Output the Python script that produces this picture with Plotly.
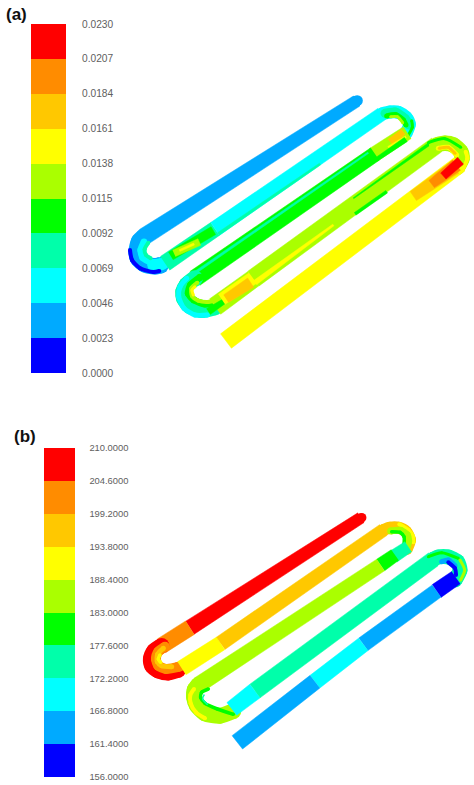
import math
import plotly.graph_objects as go

W, H = 474, 785

band_colors = ["#0000ff", "#00aaff", "#00ffff", "#00ffaa", "#00ff00",
               "#aaff00", "#ffff00", "#ffc800", "#ff8c00", "#ff0000"]

a_ticks = [0.0, 0.0023, 0.0046, 0.0069, 0.0092, 0.0115, 0.0138, 0.0161, 0.0184, 0.0207, 0.0230]
b_ticks = [156.0, 161.4, 166.8, 172.2, 177.6, 183.0, 188.4, 193.8, 199.2, 204.6, 210.0]

# pipe pieces: field value, width in px (or start/end width), centreline x, centreline y
# x/y, in crop units (3 per image pixel)
# two points = straight tapered patch, more = curved stripe with round joints
a_pieces = [
    # first leg and bend
    (0.0035, 11, [703, 708, 712], [37, 34, 32]),
    (0.0035, (12, 17), [710, 72], [33, 440]),
    (0.0035, 16.5, [72, 57, 50, 54, 75, 105, 122], [440, 455, 485, 505, 523, 529, 526]),
    (0.0057, 12, [100, 125, 148], [526, 522, 508]),
    (0.0010, 4, [30, 36, 60, 100, 118], [480, 510, 535, 546, 543]),
    (0.0057, 6.5, [72, 62, 68, 90, 120], [455, 480, 503, 516, 516]),
    (0.0080, 4, [85, 74, 78, 92], [458, 478, 495, 505]),
    # second leg
    (0.0080, (16.5, 15.5), [135, 285], [520, 417]),
    (0.0104, 9, [152, 280], [498, 422]),
    (0.0127, 7, [162, 238], [490, 456]),
    (0.0150, 2, [178, 222], [482, 462]),
    (0.0057, (15.5, 13.5), [285, 785], [417, 72]),
    (0.0080, (3, 2), [295, 600], [432, 222]),
    # upper right bend
    (0.0057, 13, [785, 810, 835, 858, 868, 858], [72, 66, 67, 82, 103, 130]),
    (0.0080, 9, [795, 825, 855, 868], [70, 66, 85, 105]),
    (0.0104, 5, [800, 828, 850, 858], [78, 74, 90, 105]),
    (0.0127, 3, [812, 832, 848], [80, 80, 98]),
    (0.0104, 3, [875, 877, 865], [92, 112, 135]),
    # third leg
    (0.0127, (14, 15), [862, 760], [128, 195]),
    (0.0172, (6, 8), [850, 812], [125, 157]),
    (0.0150, 2, [858, 805], [140, 172]),
    (0.0104, (5, 4), [858, 770], [148, 208]),
    (0.0104, (15, 17), [765, 225], [192, 565]),
    (0.0080, (1.5, 2.5), [745, 225], [188, 548]),
    # lower left bend
    (0.0080, 16, [225, 200, 190, 192, 210, 245, 285], [565, 585, 605, 625, 648, 660, 652]),
    (0.0057, 5, [200, 180, 176, 192, 225, 262], [565, 590, 620, 655, 675, 675]),
    (0.0104, 7, [240, 212, 205, 222, 255, 290], [562, 585, 610, 630, 642, 640]),
    (0.0127, 4, [232, 214, 216, 235, 262, 292], [578, 595, 618, 632, 636, 630]),
    (0.0150, 3, [225, 216, 220], [590, 600, 615]),
    # fourth leg
    (0.0127, (19, 18), [285, 400], [650, 566]),
    (0.0104, (7, 5), [265, 315], [665, 632]),
    (0.0150, (12, 13), [305, 405], [628, 560]),
    (0.0172, (9, 11), [318, 392], [626, 578]),
    (0.0127, (18.5, 17), [400, 950], [566, 165]),
    (0.0150, (5, 2), [405, 640], [578, 405]),
    (0.0104, 3, [705, 800], [372, 305]),
    (0.0104, (1, 3), [700, 940], [325, 153]),
    # far right bend
    (0.0127, 15.5, [950, 975, 1000, 1022, 1026, 1012], [165, 160, 165, 185, 205, 232]),
    (0.0104, 3, [925, 975, 1022], [158, 146, 172]),
    (0.0150, 5, [955, 985, 1010], [175, 172, 195]),
    (0.0172, 3, [958, 985, 1005], [175, 172, 190]),
    (0.0150, 4, [1037, 1042, 1030], [185, 205, 235]),
    # fifth leg
    (0.0150, (17, 18), [1020, 318], [222, 753]),
    (0.0172, (14, 11), [1005, 880], [232, 318]),
    (0.0195, (13, 9), [1010, 935], [225, 282]),
    (0.0220, (9, 8), [1022, 970], [212, 258]),
]

b_pieces = [
    # first leg and bend
    (208.0, 9.5, [688, 692, 695], [42, 40, 38]),
    (208.0, (11.5, 15.5), [693, 180], [38, 368]),
    (202.0, 16, [180, 95], [368, 422]),
    (208.0, 15.5, [95, 72, 62, 66, 85, 115, 145], [422, 438, 462, 482, 497, 503, 495]),
    (202.0, 10, [105, 85, 78, 85, 108, 148], [425, 440, 462, 482, 492, 485]),
    (196.0, 5, [100, 83, 82, 95, 125], [430, 448, 470, 482, 485]),
    (191.0, 3.5, [90, 85, 92], [450, 462, 472]),
    # second leg
    (191.0, (15.5, 15), [155, 272], [490, 415]),
    (196.0, (15, 13), [272, 760], [415, 75]),
    # upper right bend
    (196.0, 12, [760, 780, 805, 828, 840, 830], [75, 68, 68, 80, 105, 132]),
    (191.0, 4, [808, 835, 848, 850], [58, 75, 92, 112]),
    (186.0, 7, [782, 812, 832, 836, 832], [78, 76, 90, 108, 125]),
    (180.0, 3.5, [785, 810, 822, 822], [80, 82, 95, 118]),
    # third leg
    (174.0, (12, 13), [835, 790], [125, 155]),
    (180.0, (13, 14), [795, 752], [150, 180]),
    (186.0, (14, 16), [752, 205], [180, 540]),
    # lower left bend
    (186.0, 16, [205, 194, 192, 200, 225, 270, 310], [540, 555, 575, 600, 625, 632, 618]),
    (191.0, 4, [192, 181, 182, 198, 225], [552, 570, 595, 622, 640]),
    (180.0, 3.5, [235, 215, 212, 225, 262, 310], [552, 562, 578, 595, 612, 628]),
    (174.0, 1.5, [222, 218, 232], [570, 582, 598]),
    # fourth leg
    (169.0, (16, 17), [305, 375], [612, 558]),
    (174.0, (17, 16), [375, 910], [558, 163]),
    # far right bend
    (174.0, 15, [910, 925, 955, 982, 990, 975], [163, 156, 156, 170, 195, 225]),
    (180.0, 3, [895, 935, 985], [155, 143, 160]),
    (186.0, 3, [990, 1004, 992], [165, 195, 225]),
    (164.0, 5, [935, 955, 975], [170, 165, 182]),
    (158.0, 4, [955, 975, 978], [172, 190, 210]),
    # fifth leg
    (158.0, (15, 15.5), [978, 920], [218, 258]),
    (164.0, (15, 15.5), [920, 700], [258, 418]),
    (169.0, (15.5, 16), [700, 555], [418, 530]),
    (164.0, (16, 17), [555, 322], [530, 712]),
]


def band_color(value, ticks):
    for i in range(len(ticks) - 1):
        if value < ticks[i + 1]:
            return band_colors[i]
    return band_colors[-1]


fig = go.Figure()


def add_bar(ticks, labels, n, x0, x1, y0, y1, ticklen, size):
    diffs = [ticks[i + 1] - ticks[i] for i in range(len(ticks) - 1)]
    fig.add_trace(go.Bar(x=[0] * len(diffs), y=diffs, base=ticks[:-1], width=1,
                         marker=dict(color=band_colors, line=dict(width=0)),
                         xaxis=f"x{n}", yaxis=f"y{n}", showlegend=False))
    fig.update_layout({
        f"xaxis{n}": dict(domain=[x0 / W, x1 / W], range=[-0.5, 0.5], visible=False, anchor=f"y{n}",
                          automargin=False),
        f"yaxis{n}": dict(domain=[1 - y1 / H, 1 - y0 / H], range=[ticks[0], ticks[-1]], anchor=f"x{n}",
                          side="right", tickvals=ticks, ticktext=labels, ticks="outside", ticklen=ticklen,
                          tickcolor="rgba(0,0,0,0)", showgrid=False, zeroline=False, showline=False,
                          automargin=False,
                          tickfont=dict(family="Liberation Sans", size=size, color="#606060")),
    })


def add_pipe(pieces, ticks, n, x0, x1, y0, y1):
    # crop units are 3 per pixel
    for value, width, xs, ys in pieces:
        color = band_color(value, ticks)
        if len(xs) == 2:
            w0, w1 = width if isinstance(width, tuple) else (width, width)
            length = math.hypot(xs[1] - xs[0], ys[1] - ys[0])
            nx, ny = -(ys[1] - ys[0]) / length, (xs[1] - xs[0]) / length
            px = [xs[0] + nx * w0 * 1.5, xs[1] + nx * w1 * 1.5, xs[1] - nx * w1 * 1.5, xs[0] - nx * w0 * 1.5]
            py = [ys[0] + ny * w0 * 1.5, ys[1] + ny * w1 * 1.5, ys[1] - ny * w1 * 1.5, ys[0] - ny * w0 * 1.5]
            fig.add_trace(go.Scatter(x=px, y=py, mode="lines", fill="toself", fillcolor=color,
                                     line=dict(color=color, width=0.5), showlegend=False, hoverinfo="skip",
                                     xaxis=f"x{n}", yaxis=f"y{n}"))
        else:
            fig.add_trace(go.Scatter(x=xs, y=ys, mode="lines+markers", showlegend=False, hoverinfo="skip",
                                     marker=dict(size=width, color=color, line=dict(width=0)),
                                     line=dict(color=color, width=width, shape="spline", smoothing=0.7),
                                     xaxis=f"x{n}", yaxis=f"y{n}"))
    fig.update_layout({
        f"xaxis{n}": dict(domain=[x0 / W, x1 / W], range=[0, (x1 - x0) * 3], visible=False, anchor=f"y{n}",
                          automargin=False),
        f"yaxis{n}": dict(domain=[1 - y1 / H, 1 - y0 / H], range=[(y1 - y0) * 3, 0], visible=False, anchor=f"x{n}",
                          automargin=False),
    })


add_bar(a_ticks, [f"{v:.4f}" for v in a_ticks], 1, 31, 66, 24, 373, 13, 10.2)
add_bar(b_ticks, [f"{v:.4f}" for v in b_ticks], 2, 43.5, 75, 448, 777, 11.5, 9.4)
add_pipe(a_pieces, a_ticks, 3, 120, 474, 90, 360)
add_pipe(b_pieces, b_ticks, 4, 130, 474, 505, 765)

for label, x, y in [("(a)", 4, 15), ("(b)", 12, 436)]:
    fig.add_annotation(text=f"<b>{label}</b>", xref="paper", yref="paper", x=x / W, y=1 - y / H,
                       xanchor="left", yanchor="middle", showarrow=False,
                       font=dict(family="Liberation Sans", size=17, color="#111111"))

fig.update_layout(width=W, height=H, margin=dict(l=0, r=0, t=0, b=0), bargap=0,
                  paper_bgcolor="white", plot_bgcolor="white", barmode="overlay")
fig.write_html("out.html", config={"displayModeBar": False},
               post_script="document.body.style.margin='0';")
